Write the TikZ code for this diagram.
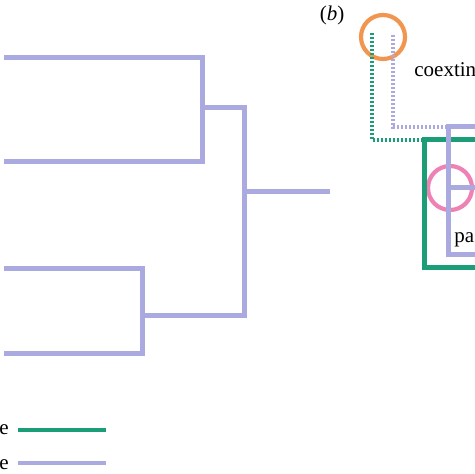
\documentclass[tikz,border=0pt]{standalone}
\usepackage{fontspec}
\setmainfont{Liberation Serif}
\usepackage{tikz}
\definecolor{lav}{RGB}{170,170,225}
\definecolor{grn}{RGB}{27,158,119}
\definecolor{org}{RGB}{240,150,80}
\definecolor{pnk}{RGB}{238,130,180}
\begin{document}
\begin{tikzpicture}[x=0.5pt, y=-0.5pt,
branch/.style={draw=lav, line width=2.5pt},
host/.style={draw=grn, line width=2.5pt},
dotgrn/.style={draw=grn, line width=2.2pt, dash pattern=on 1.1pt off 0.9pt},
dotlav/.style={draw=lav, line width=1.9pt, dash pattern=on 1.1pt off 0.9pt},
event/.style={circle, line width=2.1pt, minimum size=22pt, inner sep=0pt},
lbl/.style={font=\fontsize{10.5pt}{12.5pt}\selectfont, inner sep=0pt}
]
\useasboundingbox (0,0) rectangle (474,474);
%Nodes
\coordinate (l1)   at (4,58);
\coordinate (l2)   at (4,162);
\coordinate (l3)   at (4,269);
\coordinate (l4)   at (4,353);
\coordinate (n1)   at (202,108);
\coordinate (n2)   at (142,315);
\coordinate (r)    at (244,192);
\coordinate (root) at (330,192);
\coordinate (gtop) at (372,33);
\coordinate (gcor) at (372,140);
\coordinate (ptop) at (393,35);
\coordinate (pcor) at (393,127);
\coordinate (bx1)  at (424,140);
\coordinate (bx2)  at (424,268);
\coordinate (pa1)  at (448,127);
\coordinate (pa2)  at (448,255);
\node[event, draw=org] (coev) at (383,37) {};
\node[event, draw=pnk] (sw)   at (450,188) {};
\node[lbl] (b)   at (332,15) {(\textit{b})};
\node[lbl, anchor=base west] (coext) at (414,77) {coextin};
\node[lbl, anchor=base west] (par)   at (454,243) {pa};
\node[lbl, anchor=base east] (k1) at (9,434) {e};
\node[lbl, anchor=base east] (k2) at (9,469) {e};
\coordinate (g1) at (18,430);
\coordinate (g2) at (106,430);
\coordinate (v1) at (18,463);
\coordinate (v2) at (106,463);
%Lines
\draw[branch] (l1) -| (n1) |- (l2);
\draw[branch] (l3) -| (n2) |- (l4);
\draw[branch] (n1) -| (r) |- (n2);
\draw[branch] (r) -- (root);
\draw[dotgrn] (gtop) -- (gcor) -- (bx1);
\draw[dotlav] (ptop) -- (pcor) -- (pa1);
\draw[host] (480,140) -- (bx1) -- (bx2) -- (480,268);
\draw[branch] (480,127) -- (pa1) -- (pa2) -- (480,255);
\draw[branch] (pa1 |- sw) -- (480,188);
\draw[grn, line width=2pt] (g1) -- (g2);
\draw[lav, line width=2pt] (v1) -- (v2);
\end{tikzpicture}
\end{document}
